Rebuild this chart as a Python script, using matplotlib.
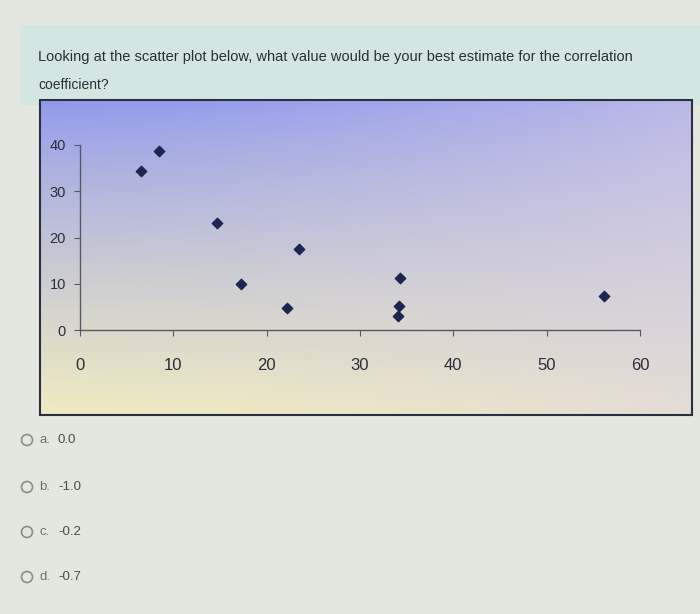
import numpy as np
import matplotlib
matplotlib.use("Agg")
import matplotlib.pyplot as plt
from matplotlib.patches import Rectangle, Circle

# Data
x_vals = [6.5, 8.5, 14.7, 17.3, 22.2, 23.5, 34.3, 34.2, 34.1, 56.1]
y_vals = [34.3, 38.8, 23.2, 10.0, 4.8, 17.5, 11.3, 5.2, 3.0, 7.4]
x_ticks = [0, 10, 20, 30, 40, 50, 60]
y_ticks = [0, 10, 20, 30, 40]
question = ["Looking at the scatter plot below, what value would be your best estimate for the correlation",
            "coefficient?"]
option_letters = ["a.", "b.", "c.", "d."]
option_values = ["0.0", "-1.0", "-0.2", "-0.7"]

W, H = 700, 614
fig = plt.figure(figsize=(W / 100, H / 100), dpi=100)
fig.patch.set_facecolor("#e4e7e0")

# full-figure overlay axes in pixel coordinates (y down)
bg = fig.add_axes([0, 0, 1, 1])
bg.set_xlim(0, W)
bg.set_ylim(H, 0)
bg.axis("off")

# question panel
bg.add_patch(Rectangle((20, 25), 680, 80, facecolor="#d3e6e2", edgecolor="none", zorder=0))
bg.text(38, 57, question[0], fontsize=10.5, color="#2a2f3a", va="center", ha="left", family="Liberation Sans")
bg.text(38, 85, question[1], fontsize=10, color="#2a2f3a", va="center", ha="left", family="Liberation Sans")

# chart box with gradient
gx = np.linspace(0, 1, 200)
gy = np.linspace(0, 1, 120)
GX, GY = np.meshgrid(gx, gy)
top = np.array([0.56, 0.60, 0.93])
bottom = np.array([0.94, 0.92, 0.76])
right = np.array([0.86, 0.82, 0.90])
t = GY[..., None] ** 0.8
img = top * (1 - t) + bottom * t
s = (GX[..., None] ** 1.5) * 0.55
img = img * (1 - s) + right * s
bx0, by0, bx1, by1 = 40, 100, 692, 415
bg.imshow(img, extent=(bx0, bx1, by1, by0), aspect="auto", zorder=1)
bg.add_patch(Rectangle((bx0, by0), bx1 - bx0, by1 - by0, facecolor="none",
                       edgecolor="#2b3040", linewidth=1.5, zorder=2))

# options
oy = [440, 487, 532, 577]
for yy, letter, val in zip(oy, option_letters, option_values):
    bg.add_patch(Circle((27, yy), 5.5, facecolor="none", edgecolor="#8a8d88", linewidth=1.2, zorder=3))
    bg.text(39, yy, letter, fontsize=9.5, color="#6d706c", va="center", ha="left", family="Liberation Sans")
    bg.text(58, yy, val, fontsize=9.5, color="#4a4d4a", va="center", ha="left", family="Liberation Sans")

# scatter axes
ax = fig.add_axes([80 / W, 1 - 330 / H, 560 / W, 185 / H])
ax.patch.set_alpha(0)
ax.scatter(x_vals, y_vals, marker="D", s=28, color="#1c2550", zorder=3)
ax.set_xlim(0, 60)
ax.set_ylim(0, 40)
ax.set_xticks(x_ticks)
ax.set_yticks(y_ticks)
ax.spines["top"].set_visible(False)
ax.spines["right"].set_visible(False)
for sp in ("left", "bottom"):
    ax.spines[sp].set_color("#555a66")
    ax.spines[sp].set_linewidth(1.0)
ax.tick_params(axis="x", direction="out", length=4, pad=16, labelsize=12, colors="#555a66", labelcolor="#2a2f3a")
ax.tick_params(axis="y", direction="out", length=4, pad=6, labelsize=10.5, colors="#555a66", labelcolor="#2a2f3a")
for lab in ax.get_xticklabels() + ax.get_yticklabels():
    lab.set_family("Liberation Sans")

fig.savefig("out.png", dpi=100, facecolor=fig.get_facecolor())
